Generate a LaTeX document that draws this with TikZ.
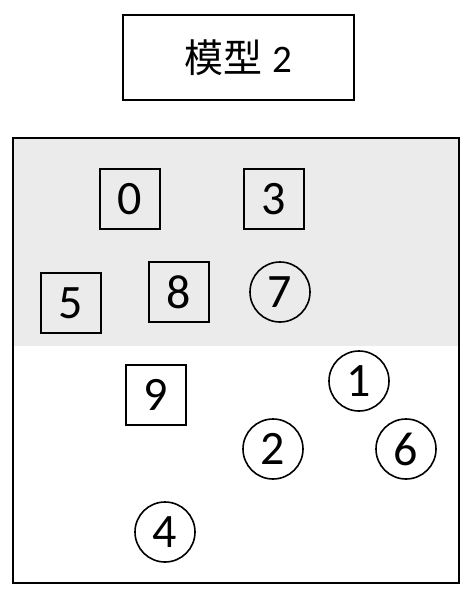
\documentclass[tikz,border=0pt]{standalone}
\usepackage{fontspec}
\setmainfont{Carlito}
\newfontfamily\cjk{Noto Sans CJK SC}
\definecolor{zonegray}{HTML}{EBEBEB}
\begin{document}
\begin{tikzpicture}[x=1pt,y=-1pt,
  item/.style={draw=black,line width=1.6pt,minimum size=60pt,inner sep=0pt,font=\fontsize{48}{48}\selectfont},
  sqitem/.style={item,rectangle},
  ciritem/.style={item,circle},
  frame/.style={draw=black,line width=1.7pt}]
\useasboundingbox (0,0) rectangle (474,602);
\fill[white] (0,0) rectangle (474,602);
% title
\node[frame,minimum width=231pt,minimum height=85pt,inner sep=0pt] (title) at (238.5,57.5) {{\cjk\fontsize{39}{39}\selectfont 模型}\hspace{10pt}{\fontsize{39}{39}\selectfont 2}};
% zones
\fill[zonegray] (13,138) rectangle (459,346);
\coordinate (tl) at (13,138);
\coordinate (br) at (459,583);
\draw[frame] (tl) rectangle (br);
% squares
\node[sqitem] (n0) at (130,199) {0};
\node[sqitem] (n3) at (274,199) {3};
\node[sqitem] (n5) at (71,303) {5};
\node[sqitem] (n8) at (179,292) {8};
\node[sqitem] (n9) at (156,395) {9};
% circles
\node[ciritem] (n7) at (280,292) {7};
\node[ciritem] (n1) at (359,381) {1};
\node[ciritem] (n2) at (273,449) {2};
\node[ciritem] (n6) at (406,449) {6};
\node[ciritem] (n4) at (165,532) {4};
\end{tikzpicture}
\end{document}
